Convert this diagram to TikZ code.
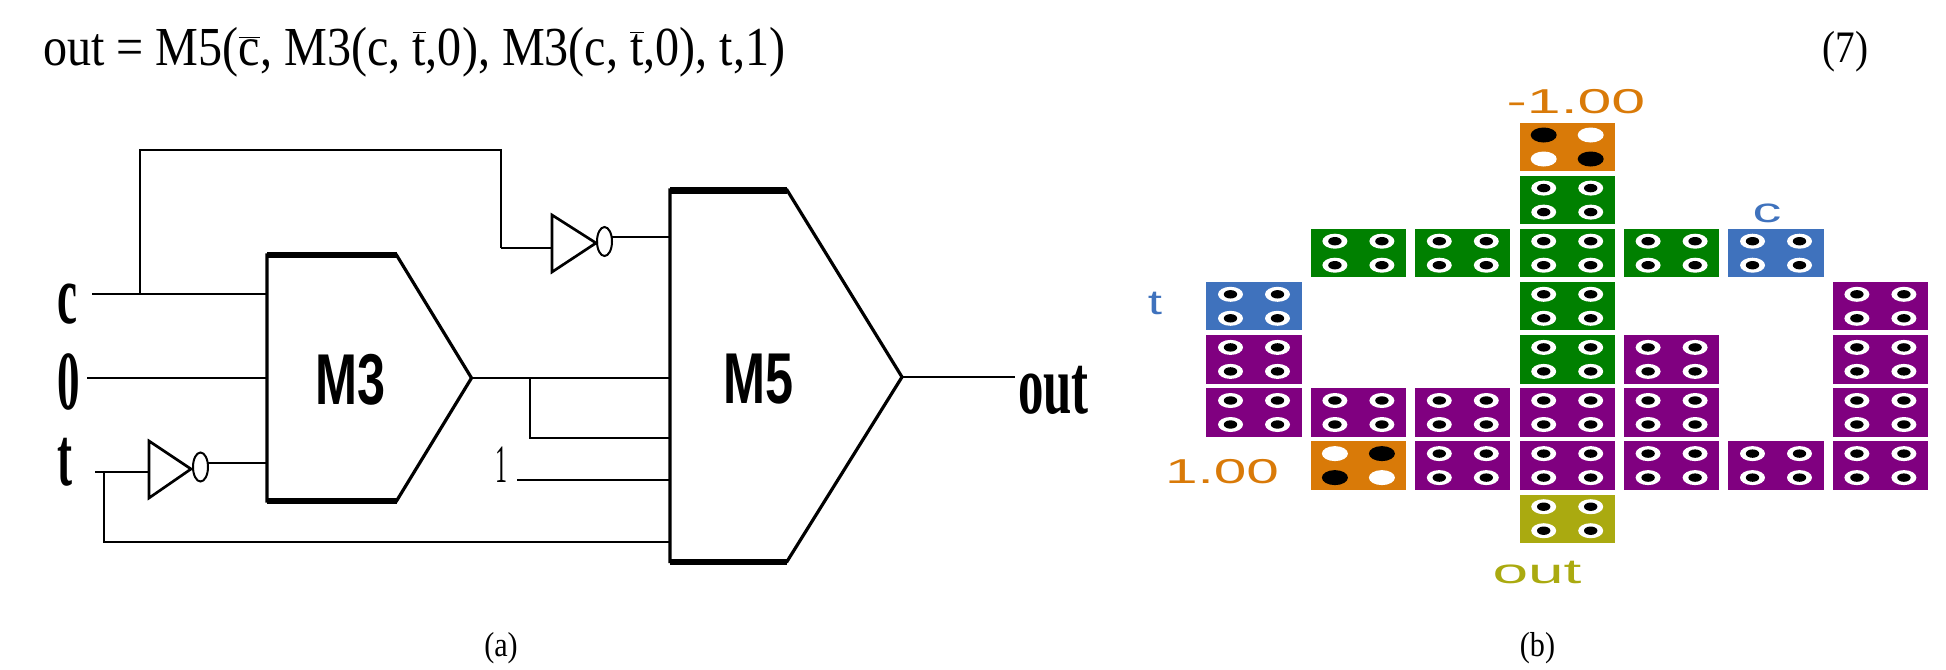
\documentclass[tikz,border=0pt]{standalone}
\usepackage{fontspec}
\setmainfont{Liberation Serif}
\newfontfamily\labelfont{Liberation Sans}
\definecolor{cellorange}{HTML}{D97A08}
\definecolor{cellgreen}{HTML}{008000}
\definecolor{cellpurple}{HTML}{800080}
\definecolor{cellblue}{HTML}{3F72BD}
\definecolor{cellolive}{HTML}{AAAA10}
\tikzset{
	wire/.style={line width=1.3pt},
	thinwire/.style={line width=.8pt},
	block/.style={line width=2.4pt,line join=miter},
	blockedge/.style={line width=4.6pt},
	gate/.style={line width=2pt},
	bubble/.style={line width=1.5pt},
	cellbox/.style={minimum width=71.5pt,minimum height=36.2pt,inner sep=0pt},
	squeezed/.style={inner sep=0pt,transform shape,xscale=#1},
	gatelabel/.style={inner sep=0pt,transform shape,xscale=1.05,yscale=1.5,font=\labelfont\bfseries\fontsize{36}{36}\selectfont},
	pinlabel/.style={inner sep=0pt,transform shape,xscale=.75,yscale=1.4,font=\bfseries\fontsize{45}{45}\selectfont},
	celllabel/.style={inner sep=0pt,transform shape,xscale=#1,yscale=1.08,font=\labelfont\fontsize{24}{24}\selectfont}
}
\begin{document}
\begin{tikzpicture}[x=.75pt,y=-.75pt]
	\useasboundingbox (0,0) rectangle (1946,669);

	% equation
	\node (equation) [squeezed=.875,anchor=base west,font=\fontsize{41.25}{41.25}\selectfont] at (43,65.5) {out = M5($\overline{\mbox{c}}$, M3(c, $\overline{\mbox{t}}$,0), M3(c, $\overline{\mbox{t}}$,0), t,1)};
	\node (number) [squeezed=.87,font=\fontsize{33.75}{33.75}\selectfont] at (1845.5,52) {(7)};

	% circuit
	\node (c) [pinlabel] at (67,304) {c};
	\node (zero) [pinlabel] at (68.5,382) {0};
	\node (t) [pinlabel] at (65,462) {t};
	\node (one) [inner sep=0pt,transform shape,xscale=.8,yscale=1.8,font=\fontsize{22.5}{22.5}\selectfont] at (501,465) {1};
	\node (out) [pinlabel,xscale=1.13,anchor=base west] at (1018,413) {out};
	\node (mthree) [gatelabel] at (350.5,380) {M3};
	\node (mfive) [gatelabel] at (758.5,379) {M5};

	\coordinate (cstart) at (92,294);
	\coordinate (cup) at (140,294);
	\coordinate (cover) at (501,150);
	\coordinate (cnot) at (501,248);
	\coordinate (notcin) at (552,248);
	\coordinate (notcout) at (612,237);
	\coordinate (zerostart) at (87,378);
	\coordinate (tstart) at (95,472);
	\coordinate (tdown) at (104,472);
	\coordinate (nottin) at (149,472);
	\coordinate (nottout) at (208,463);
	\coordinate (onestart) at (517,480);
	\coordinate (mthreea) at (267,294);
	\coordinate (mthreeb) at (267,378);
	\coordinate (mthreec) at (267,463);
	\coordinate (mthreeout) at (471.5,378);
	\coordinate (split) at (530,378);
	\coordinate (mfivea) at (670,237);
	\coordinate (mfiveb) at (670,378);
	\coordinate (mfivec) at (670,438);
	\coordinate (mfived) at (670,480);
	\coordinate (mfivee) at (670,542);
	\coordinate (mfiveout) at (902,377);
	\coordinate (outend) at (1015,377);

	\draw [block] (mthreea |- 0,255) -- (396.5,255) -- (mthreeout) -- (396.5,501) -- (mthreea |- 0,501) -- cycle;
	\draw [blockedge] (267,255.3) -- (396.5,255.3);
	\draw [blockedge] (267,501.3) -- (396.5,501.3);
	\draw [block] (mfivea |- 0,190) -- (787,190) -- (mfiveout) -- (787,561.5) -- (mfivea |- 0,561.5) -- cycle;
	\draw [blockedge] (670,190.5) -- (787,190.5);
	\draw [blockedge] (670,561.8) -- (787,561.8);

	% inverters
	\draw [gate] (552,215) -- (596,243) -- (552,272) -- cycle;
	\draw [bubble] (604.5,241.5) ellipse (7.5 and 14.5);
	\draw [gate] (149,441) -- (191,469) -- (149,498) -- cycle;
	\draw [bubble] (200.5,467) ellipse (7.5 and 14.5);

	\draw [wire] (cstart) -- (mthreea);
	\draw [thinwire] (cup) |- (cover) -- (cnot);
	\draw [wire] (cnot) -- (notcin);
	\draw [wire] (notcout) -- (mfivea);
	\draw [wire] (zerostart) -- (mthreeb);
	\draw [wire] (tstart) -- (nottin);
	\draw [wire] (nottout) -- (mthreec);
	\draw [wire] (mthreeout) -- (mfiveb);
	\draw [wire] (split) |- (mfivec);
	\draw [wire] (onestart) -- (mfived);
	\draw [wire] (tdown) |- (mfivee);
	\draw [wire] (mfiveout) -- (outend);

	% cells
	\foreach \col/\row/\shade in {3/1/cellgreen,1/2/cellgreen,2/2/cellgreen,3/2/cellgreen,4/2/cellgreen,5/2/cellblue,
		0/3/cellblue,3/3/cellgreen,6/3/cellpurple,0/4/cellpurple,3/4/cellgreen,4/4/cellpurple,6/4/cellpurple,
		0/5/cellpurple,1/5/cellpurple,2/5/cellpurple,3/5/cellpurple,4/5/cellpurple,6/5/cellpurple,
		2/6/cellpurple,3/6/cellpurple,4/6/cellpurple,5/6/cellpurple,6/6/cellpurple,3/7/cellolive}{
		\node (cell\col\row) [cellbox,fill=\shade] at (1254+104.4*\col,147+53.1*\row) {};
		\foreach \dx in {-23.5,23.5}
			\foreach \dy in {-12,12}{
				\fill [white] (1254+104.4*\col+\dx,147+53.1*\row+\dy) ellipse (12.5 and 7.5);
				\fill [black] (1254+104.4*\col+\dx,147+53.1*\row+\dy) ellipse (6.7 and 4.2);
			}
	}
	\node (cellneg) [cellbox,fill=cellorange] at (1567.2,147) {};
	\node (cellpos) [cellbox,fill=cellorange] at (1358.4,465.6) {};
	\foreach \dx/\dy/\shade in {-23.5/-12/black,23.5/-12/white,-23.5/12/white,23.5/12/black}{
		\fill [\shade] (1567.2+\dx,147+\dy) ellipse (13 and 7.5);
		\fill [\shade] (1358.4-\dx,465.6+\dy) ellipse (13 and 7.5);
	}

	\node (neglabel) [celllabel=1.9,text=cellorange] at (1576,101.5) {-1.00};
	\node (poslabel) [celllabel=1.83,text=cellorange] at (1222,472) {1.00};
	\node (clabel) [celllabel=1.8,text=cellblue] at (1767,213) {c};
	\node (tlabel) [celllabel=1.6,text=cellblue] at (1155,303.5) {t};
	\node (outlabel) [celllabel=2,text=cellolive] at (1537,572) {out};

	% captions
	\node (capa) [squeezed=.87,font=\fontsize{26}{26}\selectfont] at (501,648) {(a)};
	\node (capb) [squeezed=.87,font=\fontsize{26}{26}\selectfont] at (1537.5,648) {(b)};
\end{tikzpicture}
\end{document}
